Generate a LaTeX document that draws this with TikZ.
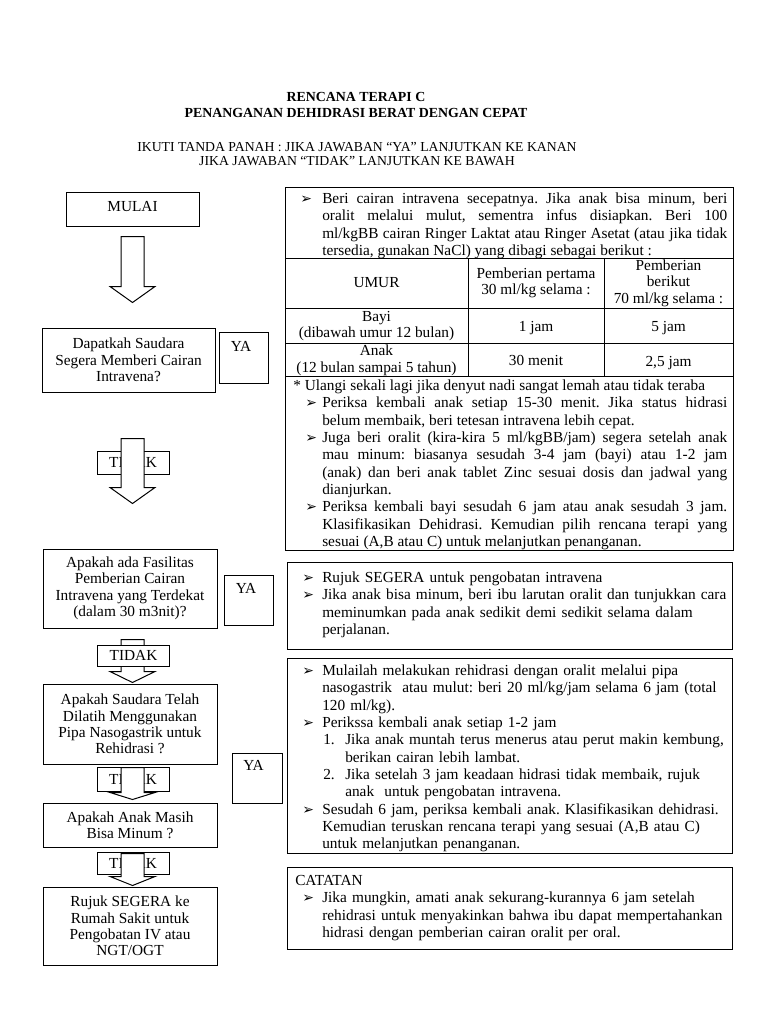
\documentclass[tikz,border=0pt]{standalone}
\usepackage{fontspec}
\setmainfont{Liberation Serif}
\newfontfamily\dejavu{DejaVu Sans}
\usetikzlibrary{calc}
\frenchspacing
\newcommand\bodyfont{\fontsize{11.5}{13}\selectfont\frenchspacing}
\newcommand\boxfont{\fontsize{11.5}{12.3}\selectfont\frenchspacing}
\newcommand\arrbul{{\dejavu\fontsize{10.5}{10.5}\selectfont ➢}}
\newcommand\bitem[3]{\par\noindent\hangindent=#2\hangafter=1\makebox[#2][l]{\hspace*{#1}\arrbul}\strut#3\par}
\newcommand\nitem[4]{\par\noindent\hangindent=#2\hangafter=1\makebox[#2][l]{\hspace*{#1}#3}\strut#4\par}
\newcommand\blockarrow[3]{%
 \draw[barrow] ($(#1)+(-11.5,0)$) -- ($(#1)+(11.5,0)$) -- ($(#1|-#2)+(11.5,-#3)$) -- ($(#1|-#2)+(22.5,-#3)$) -- (#1|-#2) -- ($(#1|-#2)+(-22.5,-#3)$) -- ($(#1|-#2)+(-11.5,-#3)$) -- cycle;}
\tikzset{
 bx/.style={draw, line width=0.75pt, inner sep=0pt},
 qbox/.style={bx, align=center, font=\boxfont},
 lbl/.style={bx, fill=white, font=\boxfont},
 txt/.style={inner sep=0pt, anchor=north west, font=\bodyfont, text width=#1},
 cell/.style={inner sep=0pt, align=center, font=\boxfont},
 plain/.style={inner sep=0pt, font=\boxfont},
 barrow/.style={draw, fill=white, line width=0.75pt, line join=miter},
 rule/.style={line width=0.75pt}
}
\begin{document}
\begin{tikzpicture}[x=0.75pt,y=-0.75pt]
\fill[white] (0,0) rectangle (768,1024);
\useasboundingbox (0,0) rectangle (768,1024);

% titles
\node[inner sep=0pt, align=center, font=\bfseries\fontsize{10.4}{12}\selectfont] (title) at (356,105) {RENCANA TERAPI C\\PENANGANAN DEHIDRASI BERAT DENGAN CEPAT};
\node[inner sep=0pt, align=center, font=\fontsize{10.3}{10.2}\selectfont] (sub) at (357,154) {IKUTI TANDA PANAH : JIKA JAWABAN “YA” LANJUTKAN KE KANAN\\JIKA JAWABAN “TIDAK” LANJUTKAN KE BAWAH};

% left column
\node[qbox, minimum width=99.75pt, minimum height=25.5pt, text depth=4pt] (mulai) at (132.5,209) {MULAI};
\node[qbox, minimum width=129.75pt, minimum height=48pt] (q1) at (128.5,360) {Dapatkah Saudara\\Segera Memberi Cairan\\Intravena?};
\node[qbox, minimum width=130.5pt, minimum height=59.25pt] (q2) at (130,588.5) {Apakah ada Fasilitas\\Pemberian Cairan\\Intravena yang Terdekat\\(dalam 30 m3nit)?};
\node[qbox, minimum width=130.5pt, minimum height=60pt] (q3) at (130,724) {Apakah Saudara Telah\\Dilatih Menggunakan\\Pipa Nasogastrik untuk\\Rehidrasi ?};
\node[qbox, minimum width=130.5pt, minimum height=33pt] (q4) at (130,825) {Apakah Anak Masih\\Bisa Minum ?};
\node[qbox, minimum width=130.5pt, minimum height=58.5pt] (q5) at (130,926) {Rujuk SEGERA ke\\Rumah Sakit untuk\\Pengobatan IV atau\\NGT/OGT};

% YA boxes
\node[bx, minimum width=36.75pt, minimum height=38.25pt, anchor=north west] (ya1) at (219,332) {};
\node[plain] (ya1t) at ($(ya1.north)+(-3,14)$) {YA};
\node[bx, minimum width=36.75pt, minimum height=37.5pt, anchor=north west] (ya2) at (224,575) {};
\node[plain] (ya2t) at ($(ya2.north)+(-3,13)$) {YA};
\node[bx, minimum width=37.5pt, minimum height=37.5pt, anchor=north west] (ya3) at (232,753) {};
\node[plain] (ya3t) at ($(ya3.north)+(-4,12)$) {YA};

% arrows and TIDAK labels
\coordinate (a1s) at ($(mulai.south)+(0,10)$);
\coordinate (a1e) at ($(mulai.south|-q1.north)+(0,-25)$);
\blockarrow{a1s}{a1e}{16}

\node[lbl, minimum width=54pt, minimum height=17.25pt] (t1) at (133,462.5) {TIDAK};
\coordinate (a2s) at ($(mulai.south|-q1.south)+(0,46)$);
\coordinate (a2e) at ($(mulai.south|-q2.north)+(0,-45)$);
\blockarrow{a2s}{a2e}{16}

\coordinate (a3s) at ($(mulai.south|-q2.south)+(0,11)$);
\coordinate (a3e) at ($(mulai.south|-q3.north)+(0,-1)$);
\blockarrow{a3s}{a3e}{11}
\node[lbl, minimum width=54pt, minimum height=15.75pt] (t2) at (133.5,655.5) {TIDAK};

\node[lbl, minimum width=54pt, minimum height=18pt] (t3) at (133,779) {TIDAK};
\coordinate (a4s) at ($(mulai.south|-q3.south)+(0,3)$);
\coordinate (a4e) at ($(mulai.south|-q4.north)+(0,-3)$);
\blockarrow{a4s}{a4e}{7}

\node[lbl, minimum width=54pt, minimum height=16.5pt] (t4) at (133,863) {TIDAK};
\coordinate (a5s) at ($(mulai.south|-q4.south)+(0,6)$);
\coordinate (a5e) at ($(mulai.south|-q5.north)+(0,-1)$);
\blockarrow{a5s}{a5e}{9}

% right column boxes
\node[bx, minimum width=336pt, minimum height=272.25pt, anchor=north west] (r1) at (285,187) {};
\node[bx, minimum width=333.75pt, minimum height=65.25pt, anchor=north west] (r2) at (287,562) {};
\node[bx, minimum width=333.75pt, minimum height=146.25pt, anchor=north west] (r3) at (287,658) {};
\node[bx, minimum width=333.75pt, minimum height=61.5pt, anchor=north west] (r4) at (287,867) {};

% table inside r1
\draw[rule] (285,258) -- (733,258);
\draw[rule] (285,308) -- (733,308);
\draw[rule] (285,343) -- (733,343);
\draw[rule] (285,376) -- (733,376);
\draw[rule] (468,258) -- (468,376);
\draw[rule] (604,258) -- (604,376);
\node[cell] (c11) at (376.5,283) {UMUR};
\node[cell] (c12) at (536,283) {Pemberian pertama\\30 ml/kg selama :};
\node[cell] (c13) at (668.5,283) {Pemberian\\berikut\\70 ml/kg selama :};
\node[cell] (c21) at (376.5,326) {Bayi\\(dibawah umur 12 bulan)};
\node[cell] (c22) at (536,328.5) {1 jam};
\node[cell] (c23) at (668.5,328.5) {5 jam};
\node[cell] (c31) at (376.5,360.5) {Anak\\(12 bulan sampai 5 tahun)};
\node[cell] (c32) at (536,360.5) {30 menit};
\node[cell] (c33) at (668.5,363.5) {2,5 jam};

% texts in right boxes
\node[txt=320.25pt, align=justify] (r1a) at (300,186) {\bitem{0pt}{16.5pt}{Beri cairan intravena secepatnya. Jika anak bisa minum, beri\linebreak oralit melalui mulut, sementra infus disiapkan. Beri 100\linebreak ml/kgBB cairan Ringer Laktat atau Ringer Asetat (atau jika tidak\linebreak tersedia, gunakan NaCl) yang dibagi sebagai berikut :}};

\node[txt=325.5pt, align=justify] (r1b) at (293,373) {\par\noindent\strut * Ulangi sekali lagi jika denyut nadi sangat lemah atau tidak teraba\par
\bitem{9pt}{21.75pt}{Periksa kembali anak setiap 15-30 menit. Jika status hidrasi\linebreak belum membaik, beri tetesan intravena lebih cepat.}
\bitem{9pt}{21.75pt}{Juga beri oralit (kira-kira 5 ml/kgBB/jam) segera setelah anak\linebreak mau minum: biasanya sesudah 3-4 jam (bayi) atau 1-2 jam\linebreak (anak) dan beri anak tablet Zinc sesuai dosis dan jadwal yang\linebreak dianjurkan.}
\bitem{9pt}{21.75pt}{Periksa kembali bayi sesudah 6 jam atau anak sesudah 3 jam.\linebreak Klasifikasikan Dehidrasi. Kemudian pilih rencana terapi yang\linebreak sesuai (A,B atau C) untuk melanjutkan penanganan.}};

\node[txt=318.75pt, align=left] (r2t) at (302,565) {\bitem{0pt}{15pt}{Rujuk SEGERA untuk pengobatan intravena}
\bitem{0pt}{15pt}{Jika anak bisa minum, beri ibu larutan oralit dan tunjukkan cara\newline meminumkan pada anak sedikit demi sedikit selama dalam\newline perjalanan.}};

\node[txt=318.75pt, align=left] (r3t) at (302,658) {\bitem{0pt}{15pt}{Mulailah melakukan rehidrasi dengan oralit melalui pipa\newline nasogastrik\ \ atau mulut: beri 20 ml/kg/jam selama 6 jam (total\newline 120 ml/kg).}
\bitem{0pt}{15pt}{Perikssa kembali anak setiap 1-2 jam}
\nitem{15.75pt}{32.25pt}{1.}{Jika anak muntah terus menerus atau perut makin kembung,\newline berikan cairan lebih lambat.}
\nitem{15.75pt}{32.25pt}{2.}{Jika setelah 3 jam keadaan hidrasi tidak membaik, rujuk\newline anak\ \ untuk pengobatan intravena.}
\bitem{0pt}{15pt}{Sesudah 6 jam, periksa kembali anak. Klasifikasikan dehidrasi.\newline Kemudian teruskan rencana terapi yang sesuai (A,B atau C)\newline untuk melanjutkan penanganan.}};

\node[txt=324pt, align=left] (r4t) at (295,868) {\par\noindent\strut CATATAN\par
\bitem{5.25pt}{20.25pt}{Jika mungkin, amati anak sekurang-kurannya 6 jam setelah\newline rehidrasi untuk menyakinkan bahwa ibu dapat mempertahankan\newline hidrasi dengan pemberian cairan oralit per oral.}};
\end{tikzpicture}
\end{document}
